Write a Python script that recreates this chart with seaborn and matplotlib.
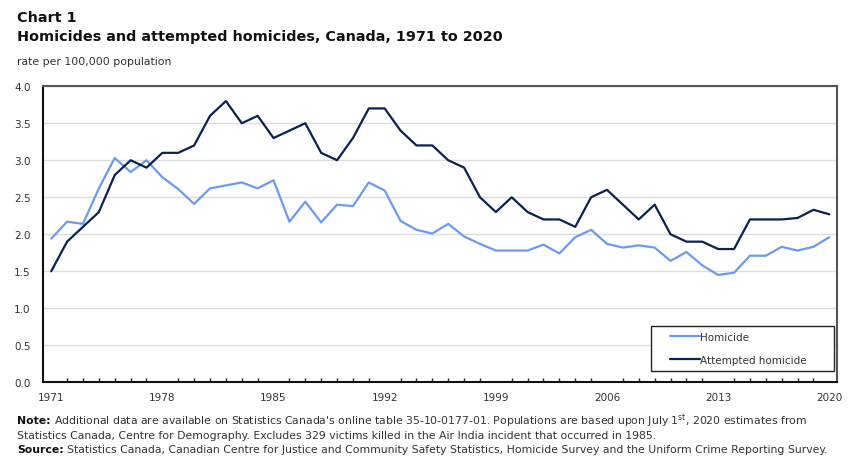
import seaborn as sns
import matplotlib.pyplot as plt
from matplotlib.patches import Rectangle
import pandas as pd

years = list(range(1971, 2021))

homicide = [1.94, 2.17, 2.14, 2.62, 3.03, 2.84, 3.00, 2.77, 2.61, 2.41,
            2.62, 2.66, 2.70, 2.62, 2.73, 2.17, 2.44, 2.16, 2.40, 2.38,
            2.70, 2.59, 2.18, 2.06, 2.01, 2.14, 1.97, 1.87, 1.78, 1.78,
            1.78, 1.86, 1.74, 1.96, 2.06, 1.87, 1.82, 1.85, 1.82, 1.64,
            1.76, 1.58, 1.45, 1.48, 1.71, 1.71, 1.83, 1.78, 1.83, 1.96]

attempted = [1.50, 1.90, 2.10, 2.30, 2.80, 3.00, 2.90, 3.10, 3.10, 3.20,
             3.60, 3.80, 3.50, 3.60, 3.30, 3.40, 3.50, 3.10, 3.00, 3.30,
             3.70, 3.70, 3.40, 3.20, 3.20, 3.00, 2.90, 2.50, 2.30, 2.50,
             2.30, 2.20, 2.20, 2.10, 2.50, 2.60, 2.40, 2.20, 2.40, 2.00,
             1.90, 1.90, 1.80, 1.80, 2.20, 2.20, 2.20, 2.22, 2.33, 2.27]

series_names = ["Homicide", "Attempted homicide"]
colors = {"Homicide": "#6b9bef", "Attempted homicide": "#0c2151"}
label_years = [1971, 1978, 1985, 1992, 1999, 2006, 2013, 2020]

df = pd.DataFrame({
    "year": years * 2,
    "rate": homicide + attempted,
    "series": [series_names[0]] * len(years) + [series_names[1]] * len(years),
})

sns.set_theme(style="white")
plt.rcParams["font.family"] = ["DejaVu Sans"]

fig = plt.figure(figsize=(8.52, 4.64), dpi=100)
ax = fig.add_axes([0.0508, 0.174, 0.9319, 0.638])

sns.lineplot(data=df, x="year", y="rate", hue="series", palette=colors,
             hue_order=series_names, linewidth=1.6, ax=ax)

ax.set_xlim(1970.5, 2020.5)
ax.set_ylim(0, 4)
ax.set_yticks([i * 0.5 for i in range(9)])
ax.set_yticklabels([f"{i * 0.5:.1f}" for i in range(9)])
ax.set_xticks(label_years)
ax.set_xticks(years, minor=True)
ax.set_xlabel("")
ax.set_ylabel("")
ax.grid(axis="y", color="#dedede", linewidth=1)
ax.set_axisbelow(True)

ax.tick_params(axis="y", length=0, labelsize=7.5, labelcolor="#333333", pad=9)
ax.tick_params(axis="x", which="major", direction="in", length=3, width=1,
               color="#222222", labelsize=7.5, labelcolor="#333333", pad=7)
ax.tick_params(axis="x", which="minor", direction="in", length=3, width=1,
               color="#222222", bottom=True)

for side in ["left", "bottom"]:
    ax.spines[side].set_color("#111111")
    ax.spines[side].set_linewidth(1.5)
for side in ["top", "right"]:
    ax.spines[side].set_color("#555555")
    ax.spines[side].set_linewidth(1.5)

# legend box drawn separately so the entries can sit where they do in the original
ax.add_patch(Rectangle((0.765, 0.039), 0.231, 0.152, transform=ax.transAxes,
                       facecolor="white", edgecolor="#222222", linewidth=1.0,
                       zorder=4))
leg = ax.legend(loc="center left", bbox_to_anchor=(0.789, 0.115),
                frameon=False, fontsize=7.5, handlelength=2.9,
                handletextpad=0.0, labelspacing=1.25, borderpad=0,
                borderaxespad=0)
leg.set_zorder(5)
for t in leg.get_texts():
    t.set_color("#333333")

fig.text(17 / 852, 1 - 18 / 464, "Chart 1", fontsize=10.4, fontweight="bold",
         color="#111111", va="center")
fig.text(17 / 852, 1 - 37 / 464,
         "Homicides and attempted homicides, Canada, 1971 to 2020",
         fontsize=10.4, fontweight="bold", color="#111111", va="center")
fig.text(17 / 852, 1 - 62 / 464, "rate per 100,000 population", fontsize=7.8,
         color="#333333", va="center")

renderer = fig.canvas.get_renderer()


def note_line(y_px, bold, rest):
    x0 = 17 / 852
    y0 = 1 - y_px / 464
    if bold:
        t = fig.text(x0, y0, bold, fontsize=7.8, fontweight="bold",
                     color="#111111", va="center")
        bb = t.get_window_extent(renderer=renderer)
        x0 = (bb.x1 + 3) / fig.bbox.width
    fig.text(x0, y0, rest, fontsize=7.8, color="#333333", va="center")


note_line(421, "Note:", "Additional data are available on Statistics Canada's online table "
          "35-10-0177-01. Populations are based upon July 1$^{\\mathrm{st}}$, 2020 estimates from")
note_line(436, None, "Statistics Canada, Centre for Demography. Excludes 329 victims killed "
          "in the Air India incident that occurred in 1985.")
note_line(450, "Source:", "Statistics Canada, Canadian Centre for Justice and Community Safety "
          "Statistics, Homicide Survey and the Uniform Crime Reporting Survey.")

fig.savefig("out.png", dpi=100)
